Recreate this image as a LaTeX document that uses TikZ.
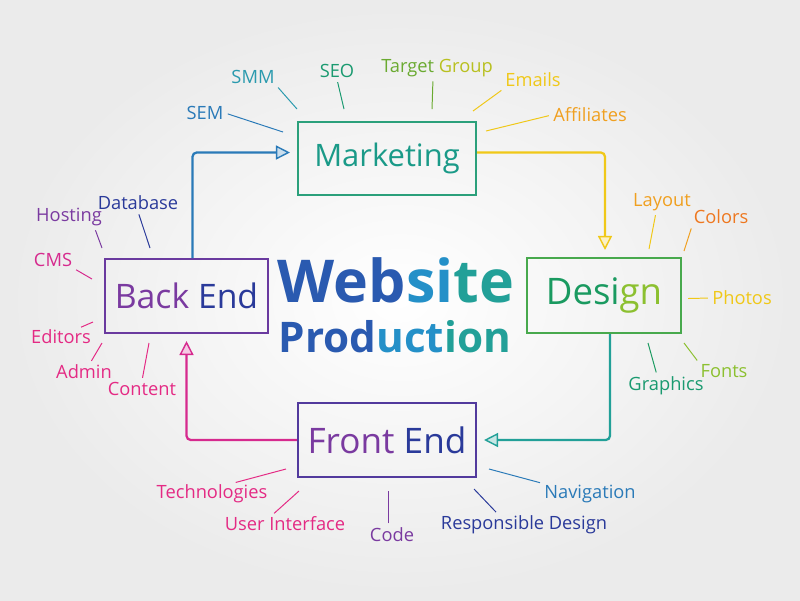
\documentclass[tikz,border=0pt]{standalone}
\usepackage{fontspec}
\setmainfont{Open Sans}
\usetikzlibrary{arrows.meta,positioning}

\definecolor{tealc}{HTML}{1A9A88}
\definecolor{smmc}{HTML}{2A9AAE}
\definecolor{semc}{HTML}{2A7AB8}
\definecolor{seoc}{HTML}{1A9A70}
\definecolor{tgtc}{HTML}{6AAA30}
\definecolor{grpc}{HTML}{B8C020}
\definecolor{yelc}{HTML}{F0C818}
\definecolor{affc}{HTML}{F0A020}
\definecolor{orac}{HTML}{EE7820}
\definecolor{limec}{HTML}{8CC030}
\definecolor{dgrn}{HTML}{1A9A60}
\definecolor{navyc}{HTML}{2A3A9A}
\definecolor{purc}{HTML}{7A3AA0}
\definecolor{magc}{HTML}{D62A8E}
\definecolor{pinkc}{HTML}{E42A84}
\definecolor{blu1}{HTML}{2A5AB0}
\definecolor{blu2}{HTML}{2490C8}
\definecolor{blu3}{HTML}{22A098}

\begin{document}
\begin{tikzpicture}[x=0.025cm,y=-0.025cm,
    box/.style={draw,line width=1.4pt,inner sep=0pt},
    word/.style={font=\fontsize{13}{15}\selectfont,inner sep=1pt},
    tie/.style={line width=0.7pt,shorten <=2pt},
    flow/.style={line width=1.6pt,rounded corners=3pt,draw=#1,shorten >=5pt,
      -{Triangle[length=10pt,width=10pt,line width=1pt,fill=#1!25]}}]
\useasboundingbox (0,0) rectangle (800,600);
\shade[inner color=white,outer color=black!8] (0,0) rectangle (800,600);

% boxes
\node[box,draw=tealc!85!limec,minimum width=4.45cm,minimum height=1.825cm,
  text=tealc,font=\fontsize{22}{24}\selectfont] (mkt) at (387,158.5) {Marketing};
\node[box,draw=purc!80!navyc,minimum width=4.075cm,minimum height=1.85cm,
  font=\fontsize{24}{26}\selectfont] (be) at (186.5,296)
  {\textcolor{purc}{Back} \textcolor{navyc}{End}};
\node[box,draw=dgrn!60!limec,minimum width=3.85cm,minimum height=1.875cm,
  font=\fontsize{26}{28}\selectfont] (dsg) at (604,295.5)
  {\textcolor{dgrn}{Desi}\textcolor{limec}{gn}};
\node[box,draw=purc!50!navyc,minimum width=4.45cm,minimum height=1.85cm,
  font=\fontsize{25}{27}\selectfont] (fe) at (387,440)
  {\textcolor{purc}{Front} \textcolor{navyc}{End}};

\node[font=\fontsize{42}{44}\bfseries\selectfont] (web) at (396,280)
  {\textcolor{blu1}{Web}\textcolor{blu2}{si}\textcolor{blu3}{te}};
\node[font=\fontsize{30}{32}\bfseries\selectfont] (prod) at (395,337)
  {\textcolor{blu1}{Prod}\textcolor{blu2}{uct}\textcolor{blu3}{ion}};

% flows
\draw[flow=semc] ([shift={(6,0)}]be.north) |- ([shift={(0,-6)}]mkt.west);
\draw[flow=yelc] ([shift={(0,-6)}]mkt.east) -| ([shift={(1,0)}]dsg.north);
\draw[flow=blu3] ([shift={(6,0)}]dsg.south) |- (fe.east);
\draw[flow=magc] (fe.west) -| (be.south);

% marketing
\node[word,text=smmc] (smm) at (253,77) {SMM};
\node[word,text=seoc] (seo) at (337,71) {SEO};
\node[word] (tgt) at (437,68) {\textcolor{tgtc}{Target} \textcolor{grpc}{Group}};
\node[word,text=yelc] (emails) at (533,80) {Emails};
\node[word,text=semc] (sem) at (205,113) {SEM};
\node[word,text=affc] (aff) at (590,115) {Affiliates};
\draw[tie,smmc] (smm.south east) -- ([shift={(0,-12)}]mkt.north west);
\draw[tie,seoc] (seo.south) -- ([shift={(47,-12)}]mkt.north west);
\draw[tie,tgtc] ([shift={(-4,0)}]tgt.south) -- ([shift={(-45,-12)}]mkt.north east);
\draw[tie,yelc] (emails.south west) -- ([shift={(-4,-10)}]mkt.north east);
\draw[tie,semc] (sem.east) -- ([shift={(-14,11)}]mkt.north west);
\draw[tie,yelc] (aff.west) -- ([shift={(9,10)}]mkt.north east);

% design
\node[word,text=affc] (layout) at (662,202) {Layout};
\node[word,text=orac] (colors) at (721,217) {Colors};
\node[word,text=yelc] (photos) at (742,298) {Photos};
\node[word,text=limec] (fonts) at (724,371) {Fonts};
\node[word,text=seoc] (graph) at (666,386) {Graphics};
\draw[tie,yelc] ([shift={(-6,0)}]layout.south) -- ([shift={(-33,-8)}]dsg.north east);
\draw[tie,affc] (colors.south west) -- ([shift={(2,-6)}]dsg.north east);
\draw[tie,yelc] (photos.west) -- ([shift={(6,3)}]dsg.east);
\draw[tie,limec] (fonts.north west) -- ([shift={(2,9)}]dsg.south east);
\draw[tie,dgrn] ([shift={(-9,0)}]graph.north) -- ([shift={(-34,9)}]dsg.south east);

% back end
\node[word,text=navyc] (db) at (138,203) {Database};
\node[word,text=purc] (host) at (69,217) {Hosting};
\node[word,text=magc] (cms) at (53,260) {CMS};
\node[word,text=pinkc] (edit) at (61,337) {Editors};
\node[word,text=pinkc] (admin) at (84,372) {Admin};
\node[word,text=pinkc] (content) at (142,389) {Content};
\draw[tie,navyc] (db.south) -- ([shift={(46,-10)}]be.north west);
\draw[tie,purc] ([shift={(-9,0)}]host.south east) -- ([shift={(-2,-10)}]be.north west);
\draw[tie,magc] (cms.south east) -- ([shift={(-12,21)}]be.north west);
\draw[tie,pinkc] ([shift={(-14,0)}]edit.north east) -- ([shift={(-11,-12)}]be.south west);
\draw[tie,pinkc] ([shift={(6,0)}]admin.north) -- ([shift={(-2,9)}]be.south west);
\draw[tie,pinkc] (content.north) -- ([shift={(45,9)}]be.south west);

% front end
\node[word,text=pinkc] (tech) at (212,494) {Technologies};
\node[word,text=pinkc] (ui) at (285,524) {User Interface};
\node[word,text=purc] (code) at (392,535) {Code};
\node[word,text=navyc] (rd) at (524,525) {Responsible Design};
\node[word,text=semc] (nav) at (590,494) {Navigation};
\draw[tie,pinkc] ([shift={(21,0)}]tech.north) -- ([shift={(-11,-9)}]fe.south west);
\draw[tie,pinkc] ([shift={(-13,0)}]ui.north) -- ([shift={(2,13)}]fe.south west);
\draw[tie,purc] ([shift={(-4,0)}]code.north) -- ([shift={(1,13)}]fe.south);
\draw[tie,navyc] ([shift={(-26,0)}]rd.north) -- ([shift={(-3,11)}]fe.south east);
\draw[tie,semc] (nav.north west) -- ([shift={(12,-9)}]fe.south east);
\end{tikzpicture}
\end{document}
